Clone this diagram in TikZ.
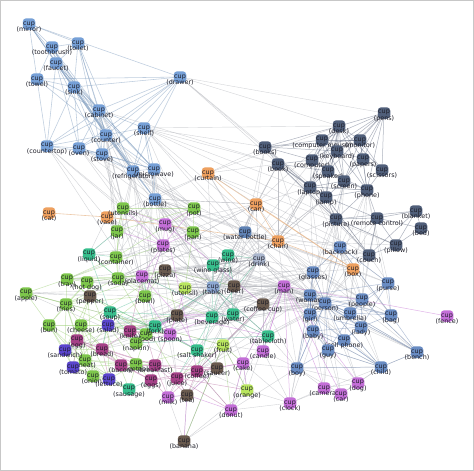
\documentclass[tikz,border=0pt]{standalone}
\usepackage{fontspec}
\setmainfont{DejaVu Sans}
\pgfdeclarelayer{bg}
\pgfsetlayers{bg,main}
\definecolor{ckb}{RGB}{118,160,215}
\definecolor{ccs}{RGB}{80,95,122}
\definecolor{cpb}{RGB}{105,140,195}
\definecolor{cor}{RGB}{238,160,95}
\definecolor{cgr}{RGB}{125,198,75}
\definecolor{cli}{RGB}{185,230,95}
\definecolor{cte}{RGB}{55,190,140}
\definecolor{cvi}{RGB}{195,110,215}
\definecolor{cbe}{RGB}{165,65,135}
\definecolor{cin}{RGB}{90,70,205}
\definecolor{cbr}{RGB}{105,90,78}
\definecolor{cdr}{RGB}{170,182,205}
\definecolor{cta}{RGB}{140,168,210}
\definecolor{cwb}{RGB}{95,130,180}
\definecolor{ctxt}{RGB}{30,30,40}
\tikzset{
  mk/.style={draw=none, rectangle, rounded corners=3.5pt, minimum width=12.5pt, minimum height=11.5pt, inner sep=0pt},
  lb/.style={font=\fontsize{6.4}{6.7}\selectfont, text=ctxt, align=center, inner sep=0pt, yshift=-3pt},
  eg/.style={draw={rgb,255:red,175;green,177;blue,184}, draw opacity=.55, line width=.4pt},
  ek/.style={draw={rgb,255:red,125;green,155;blue,190}, draw opacity=.5, line width=.55pt},
  ec/.style={draw={rgb,255:red,95;green,105;blue,128}, draw opacity=.5, line width=.5pt},
  ep/.style={draw={rgb,255:red,110;green,135;blue,178}, draw opacity=.5, line width=.5pt},
  ef/.style={draw={rgb,255:red,150;green,205;blue,110}, draw opacity=.5, line width=.5pt},
  et/.style={draw={rgb,255:red,80;green,190;blue,150}, draw opacity=.5, line width=.5pt},
  eb/.style={draw={rgb,255:red,175;green,90;blue,150}, draw opacity=.45, line width=.5pt},
  ev/.style={draw={rgb,255:red,200;green,120;blue,215}, draw opacity=.55, line width=.5pt},
  eo/.style={draw={rgb,255:red,230;green,180;blue,135}, draw opacity=.7, line width=.6pt}
}
\newcommand\cn[4]{\node[mk,fill=#3] (#1) at (#2) {}; \node[lb] (#1t) at (#2) {cup\\(#4)};}
\begin{document}
\begin{tikzpicture}[x=1pt,y=-1pt]
\useasboundingbox (0,0) rectangle (474,471);
% kitchen / bathroom
\cn{mirror}{29,24}{ckb}{mirror}
\cn{toilet}{78,43}{ckb}{toilet}
\cn{toothbrush}{52,47}{ckb}{toothbrush}
\cn{faucet}{56,63}{ckb}{faucet}
\cn{towel}{37,79}{ckb}{towel}
\cn{sink}{74,87}{ckb}{sink}
\cn{drawer}{180,77}{ckb}{drawer}
\cn{cabinet}{99,110}{ckb}{cabinet}
\cn{shelf}{144,128}{ckb}{shelf}
\cn{counter}{106,135}{ckb}{counter}
\cn{countertop}{47,146}{ckb}{countertop}
\cn{oven}{79,148}{ckb}{oven}
\cn{stove}{102,154}{ckb}{stove}
\cn{refrigerator}{133,171}{ckb}{refrigerator}
\cn{microwave}{154,169}{ckb}{microwave}
\cn{bottle}{155,199}{ckb}{bottle}
% orange
\cn{cat}{49,213}{cor}{cat}
\cn{vase}{107,217}{cor}{vase}
\cn{curtain}{208,173}{cor}{curtain}
\cn{can}{256,204}{cor}{can}
\cn{chair}{278,241}{cor}{chair}
\cn{box}{353,269}{cor}{box}
% computer / home
\cn{pens}{384,113}{ccs}{pens}
\cn{desk}{339,126}{ccs}{desk}
\cn{mouse}{322,140}{ccs}{computer mouse}
\cn{monitor}{360,140}{ccs}{monitor}
\cn{books}{265,147}{ccs}{books}
\cn{keyboard}{337,151}{ccs}{keyboard}
\cn{book}{278,164}{ccs}{book}
\cn{computer}{312,160}{ccs}{computer}
\cn{papers}{363,159}{ccs}{papers}
\cn{speaker}{328,171}{ccs}{speaker}
\cn{scissors}{382,170}{ccs}{scissors}
\cn{screen}{344,181}{ccs}{screen}
\cn{laptop}{310,187}{ccs}{laptop}
\cn{phone}{367,190}{ccs}{phone}
\cn{lamp}{326,197}{ccs}{lamp}
\cn{picture}{336,219}{ccs}{picture}
\cn{remote}{377,218}{ccs}{remote control}
\cn{blanket}{416,211}{ccs}{blanket}
\cn{bed}{421,228}{ccs}{bed}
\cn{pillow}{396,245}{ccs}{pillow}
\cn{couch}{369,255}{ccs}{couch}
% people
\cn{backpack}{340,247}{cpb}{backpack}
\cn{glasses}{313,272}{cpb}{glasses}
\cn{purse}{388,283}{cpb}{purse}
\cn{woman}{310,295}{cpb}{woman}
\cn{people}{362,299}{cpb}{people}
\cn{person}{325,303}{cpb}{person}
\cn{umbrella}{350,313}{cpb}{umbrella}
\cn{girl}{310,314}{cpb}{girl}
\cn{bag}{391,315}{cpb}{bag}
\cn{lady}{361,327}{cpb}{lady}
\cn{baby}{313,331}{cpb}{baby}
\cn{cellphone}{344,340}{cpb}{cell phone}
\cn{guy}{328,350}{cpb}{guy}
\cn{bench}{417,352}{cpb}{bench}
\cn{boy}{297,368}{cpb}{boy}
\cn{child}{381,367}{cpb}{child}
% violet
\cn{mug}{165,224}{cvi}{mug}
\cn{plates}{163,245}{cvi}{plates}
\cn{placemat}{142,276}{cvi}{placemat}
\cn{man}{284,286}{cvi}{man}
\cn{spoon}{170,334}{cvi}{spoon}
\cn{candle}{263,351}{cvi}{candle}
\cn{cake}{243,363}{cvi}{cake}
\cn{milk}{168,397}{cvi}{milk}
\cn{donut}{231,410}{cvi}{donut}
\cn{clock}{290,403}{cvi}{clock}
\cn{camera}{324,388}{cvi}{camera}
\cn{car}{341,394}{cvi}{car}
\cn{dog}{358,383}{cvi}{dog}
\cn{fence}{447,316}{cvi}{fence}
% green
\cn{utensils}{123,208}{cgr}{utensils}
\cn{pot}{194,208}{cgr}{pot}
\cn{jar}{117,231}{cgr}{jar}
\cn{pan}{193,232}{cgr}{pan}
\cn{container}{116,257}{cgr}{container}
\cn{tray}{67,279}{cgr}{tray}
\cn{hotdog}{87,282}{cgr}{hot dog}
\cn{soda}{118,278}{cgr}{soda}
\cn{apple}{26,293}{cgr}{apple}
\cn{bowl}{145,296}{cgr}{bowl}
\cn{fries}{66,304}{cgr}{fries}
\cn{bun}{49,325}{cgr}{bun}
\cn{cheese}{81,325}{cgr}{cheese}
\cn{food}{146,334}{cgr}{food}
\cn{napkin}{136,343}{cgr}{napkin}
\cn{meat}{85,360}{cgr}{meat}
\cn{vegetable}{136,364}{cgr}{vegetable}
\cn{onion}{93,376}{cgr}{onion}
\cn{utensil}{185,288}{cli}{utensil}
\cn{fruit}{223,345}{cli}{fruit}
\cn{orange}{247,390}{cli}{orange}
% teal
\cn{liquid}{89,254}{cte}{liquid}
\cn{wine}{228,255}{cte}{wine}
\cn{wineglass}{213,265}{cte}{wine glass}
\cn{soup}{110,312}{cte}{soup}
\cn{beverage}{212,317}{cte}{beverage}
\cn{water}{233,314}{cte}{water}
\cn{fork}{155,326}{cte}{fork}
\cn{tablecloth}{268,336}{cte}{tablecloth}
\cn{saltshaker}{197,350}{cte}{salt shaker}
\cn{sausage}{129,389}{cte}{sausage}
% berry
\cn{knife}{130,331}{cbe}{knife}
\cn{egg}{77,340}{cbe}{egg}
\cn{bread}{102,349}{cbe}{bread}
\cn{bacon}{121,365}{cbe}{bacon}
\cn{breakfast}{155,365}{cbe}{breakfast}
\cn{eggs}{151,380}{cbe}{eggs}
\cn{juice}{177,378}{cbe}{juice}
\cn{coffee}{197,371}{cbe}{coffee}
% indigo
\cn{salad}{108,325}{cin}{salad}
\cn{sandwich}{65,350}{cin}{sandwich}
\cn{tomato}{73,367}{cin}{tomato}
\cn{lettuce}{109,379}{cin}{lettuce}
% brown
\cn{pepper}{90,296}{cbr}{pepper}
\cn{pizza}{165,270}{cbr}{pizza}
\cn{beer}{234,286}{cbr}{beer}
\cn{coffeecup}{263,304}{cbr}{coffee cup}
\cn{plate}{177,315}{cbr}{plate}
\cn{saucer}{217,368}{cbr}{saucer}
\cn{tea}{187,395}{cbr}{tea}
\cn{banana}{184,441}{cbr}{banana}
% slate
\cn{drink}{259,259}{cdr}{drink}
\cn{table}{213,287}{cta}{table}
\cn{waterbottle}{245,232}{cwb}{water bottle}

\begin{pgfonlayer}{bg}
\fill[white] (0,0) rectangle (474,471);
\draw[black!22, line width=1.3pt] (0.65,0.65) rectangle (473.35,470.35);
% gray cross edges
\foreach \a/\bs in {
 drawer/{desk,books,book,pens,laptop},
 shelf/{books,book,desk,table,drink,waterbottle,picture,lamp,chair},
 cabinet/{book,table,plates,bowl,jar},
 counter/{table,plates,bowl,pan,pot,utensils,jar,container},
 countertop/{table,bowl,utensils,jar},
 oven/{pot,pan,plates,utensils},
 stove/{pot,pan,utensils,bowl},
 refrigerator/{jar,container,food,soda,pot,milk,juice,drink,waterbottle},
 microwave/{pot,pan,bowl,plates,food,mug},
 bottle/{waterbottle,drink,jar,container,liquid,soda,beer,wine,wineglass,water,beverage,juice,can,table,chair,person,backpack,box},
 vase/{table,plates,bowl,jar,candle,utensils,liquid,mug},
 waterbottle/{drink,can,backpack,table,soda,beverage,water,person,man,glasses,woman,liquid,container,bag,box,purse},
 drink/{can,table,beverage,water,soda,beer,juice,coffee,coffeecup,tea,milk,wine,wineglass,man,person,woman,glasses,liquid,food,pizza,plate},
 table/{plates,plate,bowl,food,placemat,tablecloth,candle,man,woman,person,couch,lamp,book,glasses,fork,spoon,knife,napkin,utensil,pizza},
 chair/{table,couch,man,person,woman,desk,lamp,picture,glasses,bench,book,laptop,pillow,people},
 man/{woman,person,girl,boy,guy,people,glasses,baby,child,lady,umbrella,coffeecup,beer,drink,bag,cellphone,bench},
 book/{table,picture,lamp,chair,couch,glasses,can,curtain},
 books/{curtain,can,waterbottle,picture,lamp},
 laptop/{backpack,person,phone,table,chair,glasses,drink,can},
 lamp/{table,chair,couch,picture,backpack},
 picture/{couch,pillow,backpack,person,glasses,woman,umbrella},
 remote/{couch,backpack,person,people},
 couch/{backpack,person,people,box,purse},
 phone/{cellphone,backpack,person,people,purse,bag},
 screen/{person,backpack,glasses},
 desk/{chair,curtain,can,table,lamp},
 curtain/{can,waterbottle,drink,table,vase,bottle,pillow,couch},
 can/{waterbottle,drink,bottle,soda,beer,table,backpack,person},
 box/{backpack,bag,purse,people,person,umbrella,glasses},
 backpack/{glasses,person,people,purse,bag,umbrella,woman,child},
 glasses/{woman,person,girl,people},
 pizza/{man,woman,person,drink,table,beer,coffeecup,glasses},
 sandwich/{man,person,table,plate},
 food/{man,person,woman,table,drink,plate,glasses},
 coffee/{man,woman,person,coffeecup,table},
 donut/{man,cake,coffee,clock,boy},
 cake/{man,table,boy,clock},
 coffeecup/{woman,person,glasses,table,tablecloth,candle,girl,boy},
 beer/{woman,person,glasses,table,wine,wineglass},
 tablecloth/{table,person,girl,boy,placemat,napkin},
 candle/{boy,table,clock},
 plate/{man,person,table,coffeecup},
 salad/{man,person,table},
 bread/{man,table,person},
 hotdog/{man,person,drink},
 soda/{man,person,drink,can,waterbottle},
 tray/{table,drink,can},
 apple/{table,bowl,fruit,orange,pepper},
 plates/{table,man,chair,bowl},
 mug/{table,drink,coffeecup,man,can},
 wineglass/{man,table,chair,woman,person,drink},
 water/{man,person,glasses,table,woman,coffeecup},
 utensil/{table,drink,man,coffeecup,beer},
 fruit/{man,table,orange,banana,cake,candle,coffeecup},
 orange/{donut,banana,cake,man,clock},
 banana/{tea,milk,donut,fruit},
 tea/{coffeecup,milk,saucer,juice},
 clock/{boy,camera,person,child,woman},
 camera/{person,guy,boy,dog,car,girl},
 car/{guy,boy,dog,child,person},
 dog/{guy,boy,child,person,cellphone},
 bench/{people,child,lady,umbrella,person},
 child/{guy,boy,person,lady,baby}}{\foreach \b in \bs {\draw[eg] (\a.center) -- (\b.center);}}
% coloured cluster edges
\foreach \a/\bs/\s in {
 mirror/{toilet,toothbrush,faucet,towel,sink,drawer,cabinet,counter}/ek,
 toilet/{toothbrush,sink,faucet,counter,cabinet,stove,refrigerator}/ek,
 toothbrush/{faucet,sink,towel,counter,refrigerator,cabinet}/ek,
 faucet/{sink,counter,cabinet,countertop,stove,microwave,refrigerator,oven}/ek,
 towel/{sink,countertop,drawer,counter,cabinet}/ek,
 sink/{cabinet,counter,countertop,stove,oven,refrigerator,microwave,drawer,bottle}/ek,
 drawer/{cabinet,shelf,counter,countertop,stove,refrigerator,oven}/ek,
 cabinet/{shelf,counter,countertop,oven,stove,refrigerator,microwave}/ek,
 shelf/{counter,stove,refrigerator,bottle,microwave}/ek,
 counter/{countertop,oven,stove,refrigerator,microwave,bottle}/ek,
 countertop/{oven,stove}/ek,
 oven/{stove,refrigerator,microwave}/ek,
 stove/{refrigerator,microwave}/ek,
 refrigerator/{microwave,bottle}/ek,
 microwave/{bottle}/ek,
 pens/{desk,monitor,mouse,keyboard,papers,scissors,screen,phone,computer,speaker}/ec,
 desk/{books,mouse,monitor,keyboard,computer,papers,speaker,scissors,screen,laptop,phone,lamp}/ec,
 books/{book,mouse,monitor,keyboard,computer,laptop}/ec,
 book/{computer,laptop,lamp,speaker,picture}/ec,
 mouse/{monitor,keyboard,computer,speaker,screen,laptop}/ec,
 monitor/{keyboard,papers,screen,scissors,phone}/ec,
 keyboard/{computer,speaker,screen,laptop,phone,papers}/ec,
 computer/{speaker,laptop,screen,lamp}/ec,
 papers/{scissors,phone,screen}/ec,
 speaker/{screen,laptop,lamp,phone}/ec,
 scissors/{phone}/ec,
 screen/{laptop,phone,lamp,picture}/ec,
 laptop/{lamp,phone,picture}/ec,
 phone/{lamp,remote,picture}/ec,
 lamp/{picture,remote,couch}/ec,
 picture/{remote,couch,pillow,blanket}/ec,
 remote/{blanket,bed,pillow,couch}/ec,
 blanket/{bed,pillow,couch}/ec,
 bed/{pillow}/ec,
 pillow/{couch}/ec,
 woman/{person,girl,people,glasses,baby,lady,guy,boy,umbrella,bag,purse}/ep,
 person/{people,girl,umbrella,lady,baby,guy,boy,child,cellphone,bag,backpack,bench,glasses}/ep,
 people/{umbrella,lady,girl,guy,bench,purse}/ep,
 girl/{baby,guy,boy,lady,child,glasses}/ep,
 lady/{baby,guy,purse,bag,cellphone}/ep,
 baby/{boy,child,guy,cellphone}/ep,
 guy/{boy,cellphone,child}/ep,
 boy/{child}/ep,
 umbrella/{bag,bench,purse}/ep,
 bag/{bench,purse}/ep,
 backpack/{purse,bag,glasses}/ep,
 cellphone/{child}/ep,
 child/{bench}/ep,
 man/{fence,clock,camera,car,dog,candle,cake,tablecloth}/ev,
 cat/{vase}/eo,
 vase/{chair}/eo,
 curtain/{chair,box}/eo,
 can/{chair,box}/eo,
 chair/{box}/eo,
 fries/{bun,hotdog,tray,apple,cheese,soda,pepper,sandwich,salad,egg,meat,bowl}/ef,
 bun/{cheese,hotdog,egg,sandwich,meat,apple,tomato,onion}/ef,
 cheese/{salad,egg,sandwich,meat,bread,tomato,onion,lettuce,pepper,pizza,bacon}/ef,
 hotdog/{tray,pepper,soda,sausage,onion}/ef,
 tray/{apple,soda,pepper,placemat,food,plates,container}/ef,
 soda/{container,pizza,placemat,bowl,beverage,liquid,jar,juice}/ef,
 meat/{bread,tomato,onion,lettuce,sandwich,sausage,egg,vegetable,bacon}/ef,
 vegetable/{onion,tomato,lettuce,fruit,eggs,breakfast,food,sausage,bacon,salad}/ef,
 pot/{pan,utensils,jar,container}/ef,
 pan/{utensils,utensil}/ef,
 utensils/{jar,container,vase}/ef,
 fruit/{orange,apple,cake,banana,donut,juice}/ef,
 salad/{soup,bowl,knife,food,fork,bread,egg,tomato,lettuce,napkin,plate,spoon}/ef,
 sandwich/{tomato,egg,bread,lettuce}/ef,
 tomato/{lettuce,onion}/ef,
 onion/{lettuce,sausage}/ef,
 soup/{bowl,spoon,plate,food,liquid,napkin,bread}/et,
 fork/{spoon,plate,napkin,food,table,placemat,knife,saltshaker}/et,
 beverage/{water,wine,wineglass,drink,juice,coffee}/et,
 wine/{wineglass,beer,drink,water}/et,
 liquid/{container,jar,soda}/et,
 sausage/{lettuce,eggs}/et,
 tablecloth/{candle,placemat,napkin,table}/et,
 breakfast/{eggs,bacon,coffee,juice,milk,bread,egg,tea,saucer,plate,food}/eb,
 eggs/{bacon,juice,milk,coffee,egg}/eb,
 juice/{milk,coffee,tea,orange,saucer,donut}/eb,
 coffee/{saucer,tea,milk,donut,coffeecup,cake}/eb,
 knife/{food,spoon,napkin,plate,bread,placemat}/eb,
 egg/{bread,sandwich,tomato,bacon}/eb,
 bread/{bacon,vegetable,lettuce}/eb,
 spoon/{plate,saltshaker,bowl,napkin,beverage}/ev,
 plate/{saltshaker,beverage,water,food,napkin,placemat,tablecloth,utensil}/ev,
 mug/{plates,pan,pot,coffee,coffeecup,utensils}/ev,
 plates/{pan,pot,bowl,placemat,utensils,jar}/ev,
 cake/{candle,donut,orange,saucer}/ev,
 tea/{banana,milk,saucer,donut}/ev,
 pepper/{pizza,saltshaker,sandwich}/ef,
 pizza/{placemat,bowl,plate,beer}/ef,
 saltshaker/{pepper,saucer}/et}{\foreach \b in \bs {\draw[\s] (\a.center) -- (\b.center);}}
\end{pgfonlayer}
\end{tikzpicture}
\end{document}
